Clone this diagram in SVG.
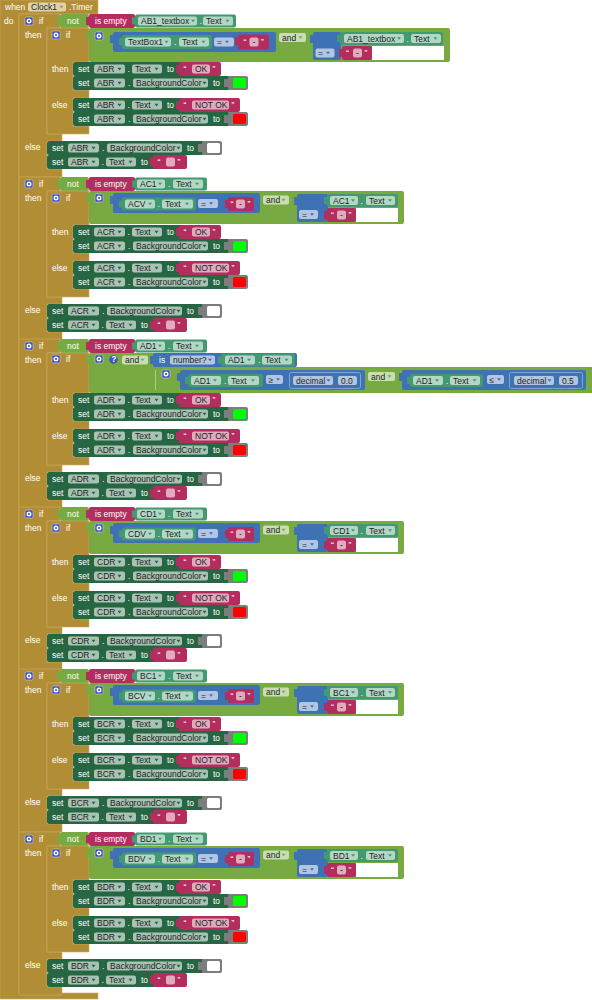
<svg xmlns="http://www.w3.org/2000/svg" width="592" height="1000" viewBox="0 0 592 1000">
<style>
text{font-family:"Liberation Sans",Arial,sans-serif;font-size:8.5px}
.w{fill:#fff}.d{fill:#1e1e1e}.q{fill:#fff}
.ctl{fill:#B18E35;stroke:#C9AB62;stroke-width:.6}
.lg{fill:#77AB41}.tx{fill:#B32D5E}.gt{fill:#439970}.st{fill:#266643}.mt{fill:#3F71B5}.cl{fill:#7D7D7D}
.pl{fill:#fff;fill-opacity:.6}
.ast{fill:#266643}.agt{fill:#439970}.amt{fill:#3F71B5}.alg{fill:#77AB41}.actl{fill:#B18E35}
.fr{fill:none;stroke:#8FAEE0;stroke-width:.8}
</style>
<defs>
<g id="gear"><rect width="8" height="8" rx="1.5" fill="#3C4FB7" stroke="#C9D0F0" stroke-width=".6"/><circle cx="4" cy="4" r="2.5" fill="#fff"/><circle cx="4" cy="4" r="1.1" fill="#3C4FB7"/></g>
<g id="notS"><rect class="lg" x="57" y="3" width="4" height="8"/><rect class="lg" x="60" width="29" height="14" rx="2"/></g>
<g id="emptyS"><rect class="tx" x="86" y="3" width="4" height="8"/><rect class="tx" x="89" width="46" height="14" rx="2"/></g>
<g id="getH"><rect class="gt" x="132" y="3.5" width="4" height="7"/><rect class="gt" x="135" y="0.5" width="72" height="13" rx="2"/><rect class="pl" x="137" y="2.5" width="28" height="9" rx="2"/><path class="agt" d="M158,5.7h4l-2,2.6z"/><rect class="pl" x="173" y="2.5" width="30" height="9" rx="2"/><path class="agt" d="M195,5.7h4l-2,2.6z"/></g>
<g id="ifS"><path class="ctl" d="M19,0H60V14H47V120H62V127H47V155H62V163H19Z"/><use href="#gear" x="25" y="3"/></g>
<g id="if2S"><path class="ctl" d="M47,14H89V48H73V76H89V84H73V112H89V120H47Z"/><use href="#gear" x="52" y="17"/></g>
<g id="andS"><rect class="lg" x="86" y="17" width="4" height="8"/><rect class="lg" x="89" y="14" width="315" height="33" rx="2"/><use href="#gear" x="95" y="17"/><rect class="pl" x="263" y="18.5" width="26" height="9" rx="2"/><path class="alg" d="M281.5,21.7h4l-2,2.6z"/><rect fill="#fff" x="356" y="31" width="42" height="14"/></g>
<g id="eq1S"><rect class="mt" x="110" y="19" width="4" height="8"/><rect class="mt" x="113" y="16" width="147" height="20" rx="2"/><rect class="pl" x="198" y="22" width="20" height="9" rx="2"/><path class="amt" d="M209,25.2h4l-2,2.6z"/></g>
<g id="gVS"><rect class="gt" x="119" y="23.5" width="4" height="7"/><rect class="gt" x="122" y="20.5" width="74" height="13" rx="2"/><rect class="pl" x="125" y="22.5" width="30" height="9" rx="2"/><path class="agt" d="M148,25.7h4l-2,2.6z"/><rect class="pl" x="162" y="22.5" width="31" height="9" rx="2"/><path class="agt" d="M185,25.7h4l-2,2.6z"/></g>
<g id="t1S"><rect class="tx" x="225" y="23" width="4" height="8"/><rect class="tx" x="228" y="20" width="26" height="14" rx="2"/><rect class="pl" x="236" y="22.5" width="9" height="9" rx="2"/></g>
<g id="eq2S"><rect class="mt" x="294" y="20" width="4" height="8"/><rect class="mt" x="297" y="17" width="31" height="28" rx="2"/><rect class="pl" x="299" y="33" width="19" height="9" rx="2"/><path class="amt" d="M310,36.2h4l-2,2.6z"/></g>
<g id="gBS"><rect class="gt" x="324" y="20" width="4" height="7"/><rect class="gt" x="327" y="17" width="71" height="13" rx="2"/><rect class="pl" x="330" y="19" width="28" height="9" rx="2"/><path class="agt" d="M351,22.2h4l-2,2.6z"/><rect class="pl" x="366" y="19" width="29" height="9" rx="2"/><path class="agt" d="M388,22.2h4l-2,2.6z"/></g>
<g id="t2S"><rect class="tx" x="324" y="34" width="4" height="8"/><rect class="tx" x="327" y="31" width="29" height="14" rx="2"/><rect class="pl" x="337" y="33.5" width="9" height="9" rx="2"/></g>
<g id="sOK"><rect class="st" width="110" height="14" rx="2"/><rect class="pl" x="21" y="2.5" width="31" height="9" rx="2"/><path class="ast" d="M44.5,5.8h4l-2,2.6z"/><rect class="pl" x="59" y="2.5" width="30" height="9" rx="2"/><path class="ast" d="M81.5,5.8h4l-2,2.6z"/><rect class="tx" x="103" y="3" width="4" height="8"/><rect class="tx" x="106" width="42" height="14" rx="2"/><rect class="pl" x="119" y="2.5" width="18" height="9" rx="2"/></g>
<g id="sNO"><rect class="st" width="110" height="14" rx="2"/><rect class="pl" x="21" y="2.5" width="31" height="9" rx="2"/><path class="ast" d="M44.5,5.8h4l-2,2.6z"/><rect class="pl" x="59" y="2.5" width="30" height="9" rx="2"/><path class="ast" d="M81.5,5.8h4l-2,2.6z"/><rect class="tx" x="103" y="3" width="4" height="8"/><rect class="tx" x="106" width="61" height="14" rx="2"/><rect class="pl" x="119" y="2.5" width="37" height="9" rx="2"/></g>
<g id="sBG"><rect class="st" width="157" height="14" rx="2"/><rect class="pl" x="21" y="2.5" width="31" height="9" rx="2"/><path class="ast" d="M44.5,5.8h4l-2,2.6z"/><rect class="pl" x="60" y="2.5" width="75" height="9" rx="2"/><path class="ast" d="M129.5,5.8h4l-2,2.6z"/><rect class="cl" x="151" y="3" width="5" height="8"/><rect class="cl" x="155" width="20" height="14" rx="2"/></g>
<g id="sEM"><rect class="st" width="110" height="14" rx="2"/><rect class="pl" x="21" y="2.5" width="31" height="9" rx="2"/><path class="ast" d="M44.5,5.8h4l-2,2.6z"/><rect class="pl" x="59" y="2.5" width="30" height="9" rx="2"/><path class="ast" d="M81.5,5.8h4l-2,2.6z"/><rect class="tx" x="103" y="3" width="4" height="8"/><rect class="tx" x="106" width="34" height="14" rx="2"/><rect class="pl" x="119" y="2.5" width="9" height="9" rx="2"/></g>
</defs>
<rect width="592" height="1000" fill="#fff"/>
<g id="connectors"/>
<g id="event">
<path class="ctl" d="M0,0H98V14H19V993H98V999H0Z"/>
<text class="w" x="5" y="10">when</text>
<rect class="pl" x="28" y="2.5" width="38" height="9" rx="2"/><path class="actl" d="M59.5,5.7h4l-2,2.6z"/>
<text class="d" x="31" y="10">Clock1</text>
<text class="w" x="69" y="10">.Timer</text>
<text class="w" x="4" y="24">do</text>
</g>

<g id="ab" transform="translate(0,14)">
<g id="ab-if"><use href="#ifS"/><text class="w" x="39" y="10">if</text><text class="w" x="25" y="24">then</text><text class="w" x="25" y="136">else</text></g>
<g id="ab-not"><use href="#notS"/><text class="w" x="67" y="10">not</text></g>
<g id="ab-isempty"><use href="#emptyS"/><text class="w" x="95" y="10">is empty</text></g>
<g id="ab-get"><rect class="gt" x="132" y="3.5" width="4" height="7"/><rect class="gt" x="135" y="0.5" width="101" height="13" rx="2"/><rect class="pl" x="138" y="2.5" width="59" height="9" rx="2"/><path class="agt" d="M191,5.7h4l-2,2.6z"/><text class="d" x="141" y="10">AB1_textbox</text><text class="w" x="199.5" y="10">.</text><rect class="pl" x="203" y="2.5" width="30" height="9" rx="2"/><path class="agt" d="M225.5,5.7h4l-2,2.6z"/><text class="d" x="206" y="10">Text</text></g>
<g id="ab-if2"><use href="#if2S"/><text class="w" x="66" y="24">if</text><text class="w" x="52" y="58">then</text><text class="w" x="52" y="94">else</text></g>
<g id="ab-and"><rect class="lg" x="86" y="17" width="4" height="8"/><rect class="lg" x="89" y="14" width="361" height="34" rx="2"/><use href="#gear" x="95" y="18"/><rect class="pl" x="279" y="19" width="27" height="9" rx="2"/><path class="alg" d="M298.5,22.2h4l-2,2.6z"/><text class="d" x="282" y="26.5">and</text><rect fill="#fff" x="372" y="32" width="72" height="14"/></g>
<g id="ab-eq1"><rect class="mt" x="110" y="21" width="4" height="8"/><rect class="mt" x="113" y="18" width="163" height="20" rx="2"/><rect class="pl" x="214" y="23.5" width="20" height="9" rx="2"/><path class="amt" d="M225,26.7h4l-2,2.6z"/><text class="d" x="217" y="31">=</text></g>
<g id="ab-get-tb1"><rect class="gt" x="119" y="24" width="4" height="7"/><rect class="gt" x="122" y="21" width="90" height="14" rx="2"/><rect class="pl" x="125" y="23.5" width="46" height="9" rx="2"/><path class="agt" d="M164.5,26.7h4l-2,2.6z"/><text class="d" x="128" y="31">TextBox1</text><text class="w" x="174" y="31">.</text><rect class="pl" x="179" y="23.5" width="30" height="9" rx="2"/><path class="agt" d="M201.5,26.7h4l-2,2.6z"/><text class="d" x="182" y="31">Text</text></g>
<g id="ab-txt1"><rect class="tx" x="235" y="23" width="4" height="8"/><rect class="tx" x="238" y="20.5" width="31" height="15" rx="2"/><text class="q" x="243.5" y="31">“</text><rect class="pl" x="249.5" y="23.5" width="9" height="9" rx="2"/><text class="d" x="252.6" y="30.5">-</text><text class="q" x="261" y="31">”</text></g>
<g id="ab-eq2"><rect class="mt" x="310" y="21" width="4" height="8"/><rect class="mt" x="313" y="18" width="28" height="28" rx="2"/><rect class="pl" x="315.5" y="34.5" width="19" height="9" rx="2"/><path class="amt" d="M326,37.7h4l-2,2.6z"/><text class="d" x="318" y="42">=</text></g>
<g id="ab-get-ab1"><rect class="gt" x="337" y="21" width="4" height="7"/><rect class="gt" x="340" y="18" width="103" height="13" rx="2"/><rect class="pl" x="344" y="20" width="60" height="9" rx="2"/><path class="agt" d="M397,23.2h4l-2,2.6z"/><text class="d" x="347" y="27.5">AB1_textbox</text><text class="w" x="406.5" y="27.5">.</text><rect class="pl" x="411" y="20" width="30" height="9" rx="2"/><path class="agt" d="M433.5,23.2h4l-2,2.6z"/><text class="d" x="414" y="27.5">Text</text></g>
<g id="ab-txt2"><rect class="tx" x="339" y="35" width="4" height="8"/><rect class="tx" x="342" y="32" width="30" height="14" rx="2"/><text class="q" x="346" y="42">“</text><rect class="pl" x="353" y="34.5" width="9" height="9" rx="2"/><text class="d" x="356.1" y="41.5">-</text><text class="q" x="364.5" y="42">”</text></g>
<g id="ab-s1" transform="translate(73,48)"><use href="#sOK"/><text class="w" x="5" y="10">set</text><text class="d" x="24" y="10">ABR</text><text class="w" x="54.5" y="10">.</text><text class="d" x="62" y="10">Text</text><text class="w" x="94" y="10">to</text><text class="q" x="110.5" y="10">“</text><text class="d" x="122" y="10">OK</text><text class="q" x="139.5" y="10">”</text></g>
<g id="ab-s2" transform="translate(73,62)"><use href="#sBG"/><rect x="160" y="2" width="13" height="10" rx="1.5" fill="#0f0"/><text class="w" x="5" y="10">set</text><text class="d" x="24" y="10">ABR</text><text class="w" x="55" y="10">.</text><text class="d" x="63" y="10">BackgroundColor</text><text class="w" x="140" y="10">to</text></g>
<g id="ab-s3" transform="translate(73,84)"><use href="#sNO"/><text class="w" x="5" y="10">set</text><text class="d" x="24" y="10">ABR</text><text class="w" x="54.5" y="10">.</text><text class="d" x="62" y="10">Text</text><text class="w" x="94" y="10">to</text><text class="q" x="110.5" y="10">“</text><text class="d" x="122" y="10">NOT OK</text><text class="q" x="158.5" y="10">”</text></g>
<g id="ab-s4" transform="translate(73,98)"><use href="#sBG"/><rect x="160" y="2" width="13" height="10" rx="1.5" fill="#f00"/><text class="w" x="5" y="10">set</text><text class="d" x="24" y="10">ABR</text><text class="w" x="55" y="10">.</text><text class="d" x="63" y="10">BackgroundColor</text><text class="w" x="140" y="10">to</text></g>
<g id="ab-s5" transform="translate(47,127)"><use href="#sBG"/><rect x="160" y="2" width="13" height="10" rx="1.5" fill="#fff"/><text class="w" x="5" y="10">set</text><text class="d" x="24" y="10">ABR</text><text class="w" x="55" y="10">.</text><text class="d" x="63" y="10">BackgroundColor</text><text class="w" x="140" y="10">to</text></g>
<g id="ab-s6" transform="translate(47,141)"><use href="#sEM"/><text class="w" x="5" y="10">set</text><text class="d" x="24" y="10">ABR</text><text class="w" x="54.5" y="10">.</text><text class="d" x="62" y="10">Text</text><text class="w" x="94" y="10">to</text><text class="q" x="110.5" y="10">“</text><text class="q" x="130.5" y="10">”</text></g>
</g>

<g id="ac" transform="translate(0,177)">
<g id="ac-if"><use href="#ifS"/><text class="w" x="39" y="10">if</text><text class="w" x="25" y="24">then</text><text class="w" x="25" y="136">else</text></g>
<g id="ac-not"><use href="#notS"/><text class="w" x="67" y="10">not</text></g>
<g id="ac-isempty"><use href="#emptyS"/><text class="w" x="95" y="10">is empty</text></g>
<g id="ac-get"><use href="#getH"/><text class="d" x="140" y="10">AC1</text><text class="w" x="168" y="10">.</text><text class="d" x="176" y="10">Text</text></g>
<g id="ac-if2"><use href="#if2S"/><text class="w" x="66" y="24">if</text><text class="w" x="52" y="58">then</text><text class="w" x="52" y="94">else</text></g>
<g id="ac-and"><use href="#andS"/><text class="d" x="266" y="26">and</text></g>
<g id="ac-eq1"><use href="#eq1S"/><text class="d" x="201" y="29.5">=</text></g>
<g id="ac-get-v"><use href="#gVS"/><text class="d" x="128" y="30">ACV</text><text class="w" x="157.5" y="30">.</text><text class="d" x="165" y="30">Text</text></g>
<g id="ac-txt1"><use href="#t1S"/><text class="q" x="230.5" y="30">“</text><text class="d" x="239.1" y="29.5">-</text><text class="q" x="247.5" y="30">”</text></g>
<g id="ac-eq2"><use href="#eq2S"/><text class="d" x="302" y="40.5">=</text></g>
<g id="ac-get-c"><use href="#gBS"/><text class="d" x="333" y="26.5">AC1</text><text class="w" x="360.5" y="26.5">.</text><text class="d" x="369" y="26.5">Text</text></g>
<g id="ac-txt2"><use href="#t2S"/><text class="q" x="331" y="41">“</text><text class="d" x="340.1" y="40.5">-</text><text class="q" x="348.5" y="41">”</text></g>
<g id="ac-s1" transform="translate(73,48)"><use href="#sOK"/><text class="w" x="5" y="10">set</text><text class="d" x="24" y="10">ACR</text><text class="w" x="54.5" y="10">.</text><text class="d" x="62" y="10">Text</text><text class="w" x="94" y="10">to</text><text class="q" x="110.5" y="10">“</text><text class="d" x="122" y="10">OK</text><text class="q" x="139.5" y="10">”</text></g>
<g id="ac-s2" transform="translate(73,62)"><use href="#sBG"/><rect x="160" y="2" width="13" height="10" rx="1.5" fill="#0f0"/><text class="w" x="5" y="10">set</text><text class="d" x="24" y="10">ACR</text><text class="w" x="55" y="10">.</text><text class="d" x="63" y="10">BackgroundColor</text><text class="w" x="140" y="10">to</text></g>
<g id="ac-s3" transform="translate(73,84)"><use href="#sNO"/><text class="w" x="5" y="10">set</text><text class="d" x="24" y="10">ACR</text><text class="w" x="54.5" y="10">.</text><text class="d" x="62" y="10">Text</text><text class="w" x="94" y="10">to</text><text class="q" x="110.5" y="10">“</text><text class="d" x="122" y="10">NOT OK</text><text class="q" x="158.5" y="10">”</text></g>
<g id="ac-s4" transform="translate(73,98)"><use href="#sBG"/><rect x="160" y="2" width="13" height="10" rx="1.5" fill="#f00"/><text class="w" x="5" y="10">set</text><text class="d" x="24" y="10">ACR</text><text class="w" x="55" y="10">.</text><text class="d" x="63" y="10">BackgroundColor</text><text class="w" x="140" y="10">to</text></g>
<g id="ac-s5" transform="translate(47,127)"><use href="#sBG"/><rect x="160" y="2" width="13" height="10" rx="1.5" fill="#fff"/><text class="w" x="5" y="10">set</text><text class="d" x="24" y="10">ACR</text><text class="w" x="55" y="10">.</text><text class="d" x="63" y="10">BackgroundColor</text><text class="w" x="140" y="10">to</text></g>
<g id="ac-s6" transform="translate(47,141)"><use href="#sEM"/><text class="w" x="5" y="10">set</text><text class="d" x="24" y="10">ACR</text><text class="w" x="54.5" y="10">.</text><text class="d" x="62" y="10">Text</text><text class="w" x="94" y="10">to</text><text class="q" x="110.5" y="10">“</text><text class="q" x="130.5" y="10">”</text></g>
</g>

<g id="ad" transform="translate(0,339)">
<g id="ad-if"><path class="ctl" d="M19,0H60V14H47V126H62V133H47V161H62V169H19Z"/><use href="#gear" x="25" y="3"/><text class="w" x="39" y="10">if</text><text class="w" x="25" y="24">then</text><text class="w" x="25" y="142">else</text></g>
<g id="ad-not"><use href="#notS"/><text class="w" x="67" y="10">not</text></g>
<g id="ad-isempty"><use href="#emptyS"/><text class="w" x="95" y="10">is empty</text></g>
<g id="ad-get"><use href="#getH"/><text class="d" x="140" y="10">AD1</text><text class="w" x="168" y="10">.</text><text class="d" x="176" y="10">Text</text></g>
<g id="ad-if2"><path class="ctl" d="M47,14H89V54H73V82H89V90H73V118H89V126H47Z"/><use href="#gear" x="52" y="16"/><text class="w" x="66" y="23">if</text><text class="w" x="52" y="64">then</text><text class="w" x="52" y="100">else</text></g>
<g id="ad-and"><rect class="lg" x="86" y="17" width="4" height="8"/><rect class="lg" x="89" y="14" width="66" height="40" rx="2"/><use href="#gear" x="95" y="16"/><circle cx="113.5" cy="20.5" r="4.2" fill="#3C55C0"/><text class="w" x="111.3" y="23.3" font-size="7" font-weight="bold">?</text><rect class="pl" x="122" y="16.5" width="26" height="9" rx="2"/><path class="alg" d="M140.5,19.7h4l-2,2.6z"/><text class="d" x="125" y="24">and</text></g>
<g id="ad-isnumber"><rect class="mt" x="150" y="17" width="4" height="8"/><rect class="mt" x="153" y="14" width="144" height="14" rx="2"/><text class="w" x="159" y="24">is</text><rect class="pl" x="170" y="16.5" width="45" height="9" rx="2"/><path class="amt" d="M208,19.7h4l-2,2.6z"/><text class="d" x="173" y="24">number?</text></g>
<g id="ad-get-1"><rect class="gt" x="218" y="17.5" width="4" height="7"/><rect class="gt" x="221" y="14.5" width="74" height="13" rx="2"/><rect class="pl" x="225" y="16.5" width="30" height="9" rx="2"/><path class="agt" d="M247,19.7h4l-2,2.6z"/><text class="d" x="228" y="24">AD1</text><text class="w" x="258" y="24">.</text><rect class="pl" x="262" y="16.5" width="30" height="9" rx="2"/><path class="agt" d="M284.5,19.7h4l-2,2.6z"/><text class="d" x="265" y="24">Text</text></g>
<g id="ad-and2"><rect class="lg" x="152" y="28" width="440" height="26"/><path d="M155.5,31V51" stroke="#A9CD83" stroke-width="1"/><use href="#gear" x="162" y="31"/><rect class="pl" x="368" y="33" width="27" height="9" rx="2"/><path class="alg" d="M387.5,36.2h4l-2,2.6z"/><text class="d" x="371" y="40.5">and</text></g>
<g id="ad-ge"><rect class="mt" x="177" y="34" width="4" height="8"/><rect class="mt" x="180" y="31" width="185" height="20" rx="2"/><rect class="pl" x="266" y="36" width="17" height="9" rx="2"/><path class="amt" d="M276,39.2h4l-2,2.6z"/><text class="d" x="268.5" y="43.5">≥</text><rect class="fr" x="289.5" y="33.5" width="71" height="16" rx="2"/><rect class="pl" x="293" y="37" width="40" height="9" rx="2"/><path class="amt" d="M326.5,40.2h4l-2,2.6z"/><text class="d" x="296" y="44.5">decimal</text><rect class="pl" x="338" y="37" width="19" height="9" rx="2"/><text class="d" x="341" y="44.5">0.0</text></g>
<g id="ad-get-2"><rect class="gt" x="185" y="38" width="4" height="7"/><rect class="gt" x="188" y="35" width="75" height="13" rx="2"/><rect class="pl" x="191" y="37" width="30" height="9" rx="2"/><path class="agt" d="M213,40.2h4l-2,2.6z"/><text class="d" x="194" y="44.5">AD1</text><text class="w" x="224" y="44.5">.</text><rect class="pl" x="228" y="37" width="31" height="9" rx="2"/><path class="agt" d="M251,40.2h4l-2,2.6z"/><text class="d" x="231" y="44.5">Text</text></g>
<g id="ad-le"><rect class="mt" x="399" y="34" width="4" height="8"/><rect class="mt" x="402" y="31" width="184" height="20" rx="2"/><rect class="pl" x="487" y="36" width="17" height="9" rx="2"/><path class="amt" d="M497,39.2h4l-2,2.6z"/><text class="d" x="489.5" y="43.5">≤</text><rect class="fr" x="509.5" y="33.5" width="73" height="16" rx="2"/><rect class="pl" x="514" y="37" width="40" height="9" rx="2"/><path class="amt" d="M547.5,40.2h4l-2,2.6z"/><text class="d" x="517" y="44.5">decimal</text><rect class="pl" x="559" y="37" width="19" height="9" rx="2"/><text class="d" x="562" y="44.5">0.5</text></g>
<g id="ad-get-3"><rect class="gt" x="407" y="38" width="4" height="7"/><rect class="gt" x="410" y="35" width="73" height="13" rx="2"/><rect class="pl" x="413" y="37" width="30" height="9" rx="2"/><path class="agt" d="M435,40.2h4l-2,2.6z"/><text class="d" x="416" y="44.5">AD1</text><text class="w" x="446" y="44.5">.</text><rect class="pl" x="450" y="37" width="30" height="9" rx="2"/><path class="agt" d="M472.5,40.2h4l-2,2.6z"/><text class="d" x="453" y="44.5">Text</text></g>
<g id="ad-s1" transform="translate(73,54)"><use href="#sOK"/><text class="w" x="5" y="10">set</text><text class="d" x="24" y="10">ADR</text><text class="w" x="54.5" y="10">.</text><text class="d" x="62" y="10">Text</text><text class="w" x="94" y="10">to</text><text class="q" x="110.5" y="10">“</text><text class="d" x="122" y="10">OK</text><text class="q" x="139.5" y="10">”</text></g>
<g id="ad-s2" transform="translate(73,68)"><use href="#sBG"/><rect x="160" y="2" width="13" height="10" rx="1.5" fill="#0f0"/><text class="w" x="5" y="10">set</text><text class="d" x="24" y="10">ADR</text><text class="w" x="55" y="10">.</text><text class="d" x="63" y="10">BackgroundColor</text><text class="w" x="140" y="10">to</text></g>
<g id="ad-s3" transform="translate(73,90)"><use href="#sNO"/><text class="w" x="5" y="10">set</text><text class="d" x="24" y="10">ADR</text><text class="w" x="54.5" y="10">.</text><text class="d" x="62" y="10">Text</text><text class="w" x="94" y="10">to</text><text class="q" x="110.5" y="10">“</text><text class="d" x="122" y="10">NOT OK</text><text class="q" x="158.5" y="10">”</text></g>
<g id="ad-s4" transform="translate(73,104)"><use href="#sBG"/><rect x="160" y="2" width="13" height="10" rx="1.5" fill="#f00"/><text class="w" x="5" y="10">set</text><text class="d" x="24" y="10">ADR</text><text class="w" x="55" y="10">.</text><text class="d" x="63" y="10">BackgroundColor</text><text class="w" x="140" y="10">to</text></g>
<g id="ad-s5" transform="translate(47,133)"><use href="#sBG"/><rect x="160" y="2" width="13" height="10" rx="1.5" fill="#fff"/><text class="w" x="5" y="10">set</text><text class="d" x="24" y="10">ADR</text><text class="w" x="55" y="10">.</text><text class="d" x="63" y="10">BackgroundColor</text><text class="w" x="140" y="10">to</text></g>
<g id="ad-s6" transform="translate(47,147)"><use href="#sEM"/><text class="w" x="5" y="10">set</text><text class="d" x="24" y="10">ADR</text><text class="w" x="54.5" y="10">.</text><text class="d" x="62" y="10">Text</text><text class="w" x="94" y="10">to</text><text class="q" x="110.5" y="10">“</text><text class="q" x="130.5" y="10">”</text></g>
</g>

<g id="cd" transform="translate(0,507)">
<g id="cd-if"><use href="#ifS"/><text class="w" x="39" y="10">if</text><text class="w" x="25" y="24">then</text><text class="w" x="25" y="136">else</text></g>
<g id="cd-not"><use href="#notS"/><text class="w" x="67" y="10">not</text></g>
<g id="cd-isempty"><use href="#emptyS"/><text class="w" x="95" y="10">is empty</text></g>
<g id="cd-get"><use href="#getH"/><text class="d" x="140" y="10">CD1</text><text class="w" x="168" y="10">.</text><text class="d" x="176" y="10">Text</text></g>
<g id="cd-if2"><use href="#if2S"/><text class="w" x="66" y="24">if</text><text class="w" x="52" y="58">then</text><text class="w" x="52" y="94">else</text></g>
<g id="cd-and"><use href="#andS"/><text class="d" x="266" y="26">and</text></g>
<g id="cd-eq1"><use href="#eq1S"/><text class="d" x="201" y="29.5">=</text></g>
<g id="cd-get-v"><use href="#gVS"/><text class="d" x="128" y="30">CDV</text><text class="w" x="157.5" y="30">.</text><text class="d" x="165" y="30">Text</text></g>
<g id="cd-txt1"><use href="#t1S"/><text class="q" x="230.5" y="30">“</text><text class="d" x="239.1" y="29.5">-</text><text class="q" x="247.5" y="30">”</text></g>
<g id="cd-eq2"><use href="#eq2S"/><text class="d" x="302" y="40.5">=</text></g>
<g id="cd-get-c"><use href="#gBS"/><text class="d" x="333" y="26.5">CD1</text><text class="w" x="360.5" y="26.5">.</text><text class="d" x="369" y="26.5">Text</text></g>
<g id="cd-txt2"><use href="#t2S"/><text class="q" x="331" y="41">“</text><text class="d" x="340.1" y="40.5">-</text><text class="q" x="348.5" y="41">”</text></g>
<g id="cd-s1" transform="translate(73,48)"><use href="#sOK"/><text class="w" x="5" y="10">set</text><text class="d" x="24" y="10">CDR</text><text class="w" x="54.5" y="10">.</text><text class="d" x="62" y="10">Text</text><text class="w" x="94" y="10">to</text><text class="q" x="110.5" y="10">“</text><text class="d" x="122" y="10">OK</text><text class="q" x="139.5" y="10">”</text></g>
<g id="cd-s2" transform="translate(73,62)"><use href="#sBG"/><rect x="160" y="2" width="13" height="10" rx="1.5" fill="#0f0"/><text class="w" x="5" y="10">set</text><text class="d" x="24" y="10">CDR</text><text class="w" x="55" y="10">.</text><text class="d" x="63" y="10">BackgroundColor</text><text class="w" x="140" y="10">to</text></g>
<g id="cd-s3" transform="translate(73,84)"><use href="#sNO"/><text class="w" x="5" y="10">set</text><text class="d" x="24" y="10">CDR</text><text class="w" x="54.5" y="10">.</text><text class="d" x="62" y="10">Text</text><text class="w" x="94" y="10">to</text><text class="q" x="110.5" y="10">“</text><text class="d" x="122" y="10">NOT OK</text><text class="q" x="158.5" y="10">”</text></g>
<g id="cd-s4" transform="translate(73,98)"><use href="#sBG"/><rect x="160" y="2" width="13" height="10" rx="1.5" fill="#f00"/><text class="w" x="5" y="10">set</text><text class="d" x="24" y="10">CDR</text><text class="w" x="55" y="10">.</text><text class="d" x="63" y="10">BackgroundColor</text><text class="w" x="140" y="10">to</text></g>
<g id="cd-s5" transform="translate(47,127)"><use href="#sBG"/><rect x="160" y="2" width="13" height="10" rx="1.5" fill="#fff"/><text class="w" x="5" y="10">set</text><text class="d" x="24" y="10">CDR</text><text class="w" x="55" y="10">.</text><text class="d" x="63" y="10">BackgroundColor</text><text class="w" x="140" y="10">to</text></g>
<g id="cd-s6" transform="translate(47,141)"><use href="#sEM"/><text class="w" x="5" y="10">set</text><text class="d" x="24" y="10">CDR</text><text class="w" x="54.5" y="10">.</text><text class="d" x="62" y="10">Text</text><text class="w" x="94" y="10">to</text><text class="q" x="110.5" y="10">“</text><text class="q" x="130.5" y="10">”</text></g>
</g>

<g id="bc" transform="translate(0,669)">
<g id="bc-if"><use href="#ifS"/><text class="w" x="39" y="10">if</text><text class="w" x="25" y="24">then</text><text class="w" x="25" y="136">else</text></g>
<g id="bc-not"><use href="#notS"/><text class="w" x="67" y="10">not</text></g>
<g id="bc-isempty"><use href="#emptyS"/><text class="w" x="95" y="10">is empty</text></g>
<g id="bc-get"><use href="#getH"/><text class="d" x="140" y="10">BC1</text><text class="w" x="168" y="10">.</text><text class="d" x="176" y="10">Text</text></g>
<g id="bc-if2"><use href="#if2S"/><text class="w" x="66" y="24">if</text><text class="w" x="52" y="58">then</text><text class="w" x="52" y="94">else</text></g>
<g id="bc-and"><use href="#andS"/><text class="d" x="266" y="26">and</text></g>
<g id="bc-eq1"><use href="#eq1S"/><text class="d" x="201" y="29.5">=</text></g>
<g id="bc-get-v"><use href="#gVS"/><text class="d" x="128" y="30">BCV</text><text class="w" x="157.5" y="30">.</text><text class="d" x="165" y="30">Text</text></g>
<g id="bc-txt1"><use href="#t1S"/><text class="q" x="230.5" y="30">“</text><text class="d" x="239.1" y="29.5">-</text><text class="q" x="247.5" y="30">”</text></g>
<g id="bc-eq2"><use href="#eq2S"/><text class="d" x="302" y="40.5">=</text></g>
<g id="bc-get-c"><use href="#gBS"/><text class="d" x="333" y="26.5">BC1</text><text class="w" x="360.5" y="26.5">.</text><text class="d" x="369" y="26.5">Text</text></g>
<g id="bc-txt2"><use href="#t2S"/><text class="q" x="331" y="41">“</text><text class="d" x="340.1" y="40.5">-</text><text class="q" x="348.5" y="41">”</text></g>
<g id="bc-s1" transform="translate(73,48)"><use href="#sOK"/><text class="w" x="5" y="10">set</text><text class="d" x="24" y="10">BCR</text><text class="w" x="54.5" y="10">.</text><text class="d" x="62" y="10">Text</text><text class="w" x="94" y="10">to</text><text class="q" x="110.5" y="10">“</text><text class="d" x="122" y="10">OK</text><text class="q" x="139.5" y="10">”</text></g>
<g id="bc-s2" transform="translate(73,62)"><use href="#sBG"/><rect x="160" y="2" width="13" height="10" rx="1.5" fill="#0f0"/><text class="w" x="5" y="10">set</text><text class="d" x="24" y="10">BCR</text><text class="w" x="55" y="10">.</text><text class="d" x="63" y="10">BackgroundColor</text><text class="w" x="140" y="10">to</text></g>
<g id="bc-s3" transform="translate(73,84)"><use href="#sNO"/><text class="w" x="5" y="10">set</text><text class="d" x="24" y="10">BCR</text><text class="w" x="54.5" y="10">.</text><text class="d" x="62" y="10">Text</text><text class="w" x="94" y="10">to</text><text class="q" x="110.5" y="10">“</text><text class="d" x="122" y="10">NOT OK</text><text class="q" x="158.5" y="10">”</text></g>
<g id="bc-s4" transform="translate(73,98)"><use href="#sBG"/><rect x="160" y="2" width="13" height="10" rx="1.5" fill="#f00"/><text class="w" x="5" y="10">set</text><text class="d" x="24" y="10">BCR</text><text class="w" x="55" y="10">.</text><text class="d" x="63" y="10">BackgroundColor</text><text class="w" x="140" y="10">to</text></g>
<g id="bc-s5" transform="translate(47,127)"><use href="#sBG"/><rect x="160" y="2" width="13" height="10" rx="1.5" fill="#fff"/><text class="w" x="5" y="10">set</text><text class="d" x="24" y="10">BCR</text><text class="w" x="55" y="10">.</text><text class="d" x="63" y="10">BackgroundColor</text><text class="w" x="140" y="10">to</text></g>
<g id="bc-s6" transform="translate(47,141)"><use href="#sEM"/><text class="w" x="5" y="10">set</text><text class="d" x="24" y="10">BCR</text><text class="w" x="54.5" y="10">.</text><text class="d" x="62" y="10">Text</text><text class="w" x="94" y="10">to</text><text class="q" x="110.5" y="10">“</text><text class="q" x="130.5" y="10">”</text></g>
</g>

<g id="bd" transform="translate(0,832)">
<g id="bd-if"><use href="#ifS"/><text class="w" x="39" y="10">if</text><text class="w" x="25" y="24">then</text><text class="w" x="25" y="136">else</text></g>
<g id="bd-not"><use href="#notS"/><text class="w" x="67" y="10">not</text></g>
<g id="bd-isempty"><use href="#emptyS"/><text class="w" x="95" y="10">is empty</text></g>
<g id="bd-get"><use href="#getH"/><text class="d" x="140" y="10">BD1</text><text class="w" x="168" y="10">.</text><text class="d" x="176" y="10">Text</text></g>
<g id="bd-if2"><use href="#if2S"/><text class="w" x="66" y="24">if</text><text class="w" x="52" y="58">then</text><text class="w" x="52" y="94">else</text></g>
<g id="bd-and"><use href="#andS"/><text class="d" x="266" y="26">and</text></g>
<g id="bd-eq1"><use href="#eq1S"/><text class="d" x="201" y="29.5">=</text></g>
<g id="bd-get-v"><use href="#gVS"/><text class="d" x="128" y="30">BDV</text><text class="w" x="157.5" y="30">.</text><text class="d" x="165" y="30">Text</text></g>
<g id="bd-txt1"><use href="#t1S"/><text class="q" x="230.5" y="30">“</text><text class="d" x="239.1" y="29.5">-</text><text class="q" x="247.5" y="30">”</text></g>
<g id="bd-eq2"><use href="#eq2S"/><text class="d" x="302" y="40.5">=</text></g>
<g id="bd-get-c"><use href="#gBS"/><text class="d" x="333" y="26.5">BD1</text><text class="w" x="360.5" y="26.5">.</text><text class="d" x="369" y="26.5">Text</text></g>
<g id="bd-txt2"><use href="#t2S"/><text class="q" x="331" y="41">“</text><text class="d" x="340.1" y="40.5">-</text><text class="q" x="348.5" y="41">”</text></g>
<g id="bd-s1" transform="translate(73,48)"><use href="#sOK"/><text class="w" x="5" y="10">set</text><text class="d" x="24" y="10">BDR</text><text class="w" x="54.5" y="10">.</text><text class="d" x="62" y="10">Text</text><text class="w" x="94" y="10">to</text><text class="q" x="110.5" y="10">“</text><text class="d" x="122" y="10">OK</text><text class="q" x="139.5" y="10">”</text></g>
<g id="bd-s2" transform="translate(73,62)"><use href="#sBG"/><rect x="160" y="2" width="13" height="10" rx="1.5" fill="#0f0"/><text class="w" x="5" y="10">set</text><text class="d" x="24" y="10">BDR</text><text class="w" x="55" y="10">.</text><text class="d" x="63" y="10">BackgroundColor</text><text class="w" x="140" y="10">to</text></g>
<g id="bd-s3" transform="translate(73,84)"><use href="#sNO"/><text class="w" x="5" y="10">set</text><text class="d" x="24" y="10">BDR</text><text class="w" x="54.5" y="10">.</text><text class="d" x="62" y="10">Text</text><text class="w" x="94" y="10">to</text><text class="q" x="110.5" y="10">“</text><text class="d" x="122" y="10">NOT OK</text><text class="q" x="158.5" y="10">”</text></g>
<g id="bd-s4" transform="translate(73,98)"><use href="#sBG"/><rect x="160" y="2" width="13" height="10" rx="1.5" fill="#f00"/><text class="w" x="5" y="10">set</text><text class="d" x="24" y="10">BDR</text><text class="w" x="55" y="10">.</text><text class="d" x="63" y="10">BackgroundColor</text><text class="w" x="140" y="10">to</text></g>
<g id="bd-s5" transform="translate(47,127)"><use href="#sBG"/><rect x="160" y="2" width="13" height="10" rx="1.5" fill="#fff"/><text class="w" x="5" y="10">set</text><text class="d" x="24" y="10">BDR</text><text class="w" x="55" y="10">.</text><text class="d" x="63" y="10">BackgroundColor</text><text class="w" x="140" y="10">to</text></g>
<g id="bd-s6" transform="translate(47,141)"><use href="#sEM"/><text class="w" x="5" y="10">set</text><text class="d" x="24" y="10">BDR</text><text class="w" x="54.5" y="10">.</text><text class="d" x="62" y="10">Text</text><text class="w" x="94" y="10">to</text><text class="q" x="110.5" y="10">“</text><text class="q" x="130.5" y="10">”</text></g>
</g>
</svg>
